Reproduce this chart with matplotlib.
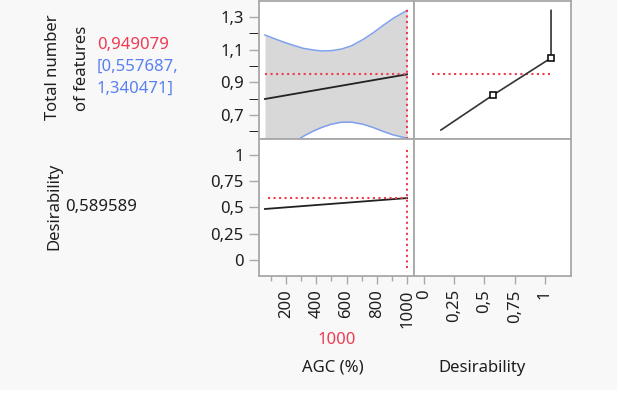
import matplotlib.pyplot as plt
from matplotlib.patches import Rectangle
from matplotlib.ticker import FuncFormatter, FixedLocator

plt.rcParams['font.family'] = ['Noto Sans', 'DejaVu Sans']

# profiler data
agc_pts = [61, 116, 182, 248, 315, 381, 436, 502, 568, 634, 711, 777, 843, 909, 1000]
ci_upper = [1.190, 1.170, 1.147, 1.127, 1.108, 1.098, 1.092, 1.094, 1.104, 1.124,
            1.163, 1.204, 1.249, 1.292, 1.340471]
ci_lower = [0.406, 0.444, 0.487, 0.529, 0.570, 0.602, 0.624, 0.644, 0.656, 0.656,
            0.643, 0.623, 0.599, 0.578, 0.557687]
pred_x = [61, 1000]
pred_y = [0.798, 0.949079]
desir_y = [0.486, 0.589589]
agc_current = 1000
pred_current = 0.949079
desir_current = 0.589589

# desirability function (desirability vs response)
dfun_d = [0.14, 0.57, 1.05, 1.05]
dfun_r = [0.608, 0.822, 1.049, 1.340471]
dfun_marks_d = [0.57, 1.05]
dfun_marks_r = [0.822, 1.049]

agc_major = [200, 400, 600, 800, 1000]
agc_minor = [100, 300, 500, 700, 900]
resp_major = [0.7, 0.9, 1.1, 1.3, 1.5]
resp_minor = [0.6, 0.8, 1.0, 1.2, 1.4]
des_ticks = [0, 0.25, 0.5, 0.75, 1]

W, H = 620, 393
RED = '#ee3b52'
BLUE = '#5a7ff0'
GRID = '#a8a8a8'
TXT = '#1e1e1e'

fig = plt.figure(figsize=(W / 100, H / 100), dpi=100, facecolor='white')
fig.patches.append(Rectangle((0, 1 - 390 / H), 617 / W, 390 / H, transform=fig.transFigure,
                             facecolor='#f8f8f8', edgecolor='none', zorder=-10))


def box(x0, y0, x1, y1):
    return fig.add_axes([x0 / W, 1 - y1 / H, (x1 - x0) / W, (y1 - y0) / H])


def ptext(x, y, s, **kw):
    kw.setdefault('fontsize', 12)
    kw.setdefault('color', TXT)
    fig.text(x / W, 1 - y / H, s, **kw)


def comma(v, pos=None):
    s = ('%g' % v)
    return s.replace('.', ',')


ax_tl = box(259, 1, 414, 139)
ax_tr = box(414, 1, 571, 139)
ax_bl = box(259, 139, 414, 276)
ax_br = box(414, 139, 571, 276)

for ax in (ax_tl, ax_tr, ax_bl, ax_br):
    ax.set_facecolor('white')
    for sp in ax.spines.values():
        sp.set_color(GRID)
        sp.set_linewidth(1.3)
    ax.tick_params(colors=GRID, labelcolor=TXT, labelsize=12, width=1.0)
    ax.set_xticks([])
    ax.set_yticks([])

for ax in (ax_tl, ax_bl):
    ax.set_xlim(21.5, 1046)
for ax in (ax_tr, ax_br):
    ax.set_xlim(-0.0826, 1.215)
for ax in (ax_tl, ax_tr):
    ax.set_ylim(0.553, 1.398)
for ax in (ax_bl, ax_br):
    ax.set_ylim(-0.152, 1.152)

# top left: response profile with confidence band
ax_tl.fill_between(agc_pts, ci_lower, ci_upper, color='#d8d8d8', lw=0)
ax_tl.plot(agc_pts, ci_upper, color='#7f9ff0', lw=1.1)
ax_tl.plot(agc_pts, ci_lower, color='#7f9ff0', lw=1.1)
ax_tl.plot(pred_x, pred_y, color='#222222', lw=1.3)
ax_tl.plot([pred_x[0], agc_current], [pred_current, pred_current], color=RED, ls=':', lw=1.5)
ax_tl.plot([agc_current, agc_current], [0.553, ci_upper[-1]], color=RED, ls=':', lw=1.5)
ax_tl.yaxis.set_major_locator(FixedLocator(resp_major))
ax_tl.yaxis.set_minor_locator(FixedLocator(resp_minor))
ax_tl.yaxis.set_major_formatter(FuncFormatter(comma))
ax_tl.tick_params(axis='y', which='both', length=7, pad=4)

# top right: desirability function
ax_tr.plot([0.07, 1.06], [pred_current, pred_current], color=RED, ls=':', lw=1.5)
ax_tr.plot(dfun_d, dfun_r, color='#333333', lw=1.2)
ax_tr.plot(dfun_marks_d, dfun_marks_r, ls='none', marker='s', ms=5, mfc='white',
           mec='#111111', mew=1.2)

# bottom left: desirability profile
ax_bl.plot(pred_x, desir_y, color='#222222', lw=1.3)
ax_bl.plot([pred_x[0] + 20, agc_current], [desir_current, desir_current], color=RED, ls=':', lw=1.5)
ax_bl.plot([agc_current, agc_current], [-0.075, 1.075], color=RED, ls=':', lw=1.5)
ax_bl.set_yticks(des_ticks)
ax_bl.yaxis.set_major_formatter(FuncFormatter(comma))
ax_bl.tick_params(axis='y', length=7, pad=4)
ax_bl.xaxis.set_major_locator(FixedLocator(agc_major))
ax_bl.xaxis.set_minor_locator(FixedLocator(agc_minor))
ax_bl.xaxis.set_major_formatter(FuncFormatter(comma))
ax_bl.tick_params(axis='x', which='major', length=6, pad=3.5, labelrotation=90)
ax_bl.tick_params(axis='x', which='minor', length=3.5, width=1.0, colors=GRID)

ax_br.set_xticks(des_ticks)
ax_br.xaxis.set_major_formatter(FuncFormatter(comma))
ax_br.tick_params(axis='x', length=6, pad=3.5, labelrotation=90)

# side labels
ptext(53, 67, 'Total number', rotation=90, ha='center', va='center')
ptext(82, 68, 'of features', rotation=90, ha='center', va='center')
ptext(97, 45, '0,949079', color=RED, ha='left', va='center')
ptext(97, 67, '[0,557687,', color=BLUE, ha='left', va='center')
ptext(97, 89, '1,340471]', color=BLUE, ha='left', va='center')
ptext(54, 206, 'Desirability', rotation=90, ha='center', va='center')
ptext(65, 207, '0,589589', ha='left', va='center')

# bottom labels
ptext(337, 340, '1000', color=RED, ha='center', va='center')
ptext(333, 368, 'AGC (%)', ha='center', va='center')
ptext(482, 368, 'Desirability', ha='center', va='center')

fig.savefig('out.png', dpi=100, facecolor=fig.get_facecolor())
